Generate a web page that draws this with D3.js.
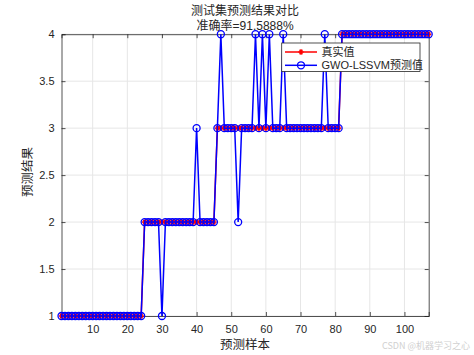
<!DOCTYPE html>
<html><head><meta charset="utf-8">
<script src="https://cdn.jsdelivr.net/npm/d3@7"></script>
<style>body{margin:0;background:#fff}svg{display:block}</style>
</head><body>
<script>
// Data (sample index 1..107)
const trueLevels = [ // [startSample, endSample, value]
  [1, 24, 1], [25, 45, 2], [46, 81, 3], [82, 107, 4]
];
const trueValues = [];
trueLevels.forEach(([a,b,v]) => { for (let i=a;i<=b;i++) trueValues.push(v); });
const predOverrides = [[30,1],[40,3],[47,4],[52,2],[57,4],[59,4],[61,4],[65,4],[77,4]];
const predValues = trueValues.slice();
predOverrides.forEach(([i,v]) => { predValues[i-1] = v; });
const xTicks = [10,20,30,40,50,60,70,80,90,100];
const yTicks = [1,1.5,2,2.5,3,3.5,4];
const titleLines = ["测试集预测结果对比", "准确率=91.5888%"];
const legendLabels = ["真实值", "GWO-LSSVM预测值"];

const W=474,H=355;
const m={l:61.5,r:428.7,t:34.2,b:316};
const svg=d3.select("body").append("svg").attr("width",W).attr("height",H);
const x=d3.scaleLinear().domain([1,107]).range([m.l,m.r]);
const y=d3.scaleLinear().domain([1,4]).range([m.b,m.t]);
const latin="Arial, 'Liberation Sans', Helvetica, sans-serif";
const cjk="'Noto Sans CJK SC', sans-serif";

// grid
const g=svg.append("g");
g.selectAll(".gx").data(xTicks).join("line").attr("x1",d=>x(d)).attr("x2",d=>x(d))
 .attr("y1",m.t).attr("y2",m.b).attr("stroke","#e6e6e6").attr("stroke-width",1);
g.selectAll(".gy").data(yTicks).join("line").attr("y1",d=>y(d)).attr("y2",d=>y(d))
 .attr("x1",m.l).attr("x2",m.r).attr("stroke","#e6e6e6").attr("stroke-width",1);

// axes
const axCol="#262626";
const xb=svg.append("g").attr("transform",`translate(0,${m.b})`)
 .call(d3.axisBottom(x).tickValues(xTicks).tickSize(-4).tickPadding(9));
const xt=svg.append("g").attr("transform",`translate(0,${m.t})`)
 .call(d3.axisTop(x).tickValues(xTicks).tickSize(-4).tickFormat(""));
const yl=svg.append("g").attr("transform",`translate(${m.l},0)`)
 .call(d3.axisLeft(y).tickValues(yTicks).tickSize(-4).tickPadding(7).tickFormat(d3.format("")));
const yr=svg.append("g").attr("transform",`translate(${m.r},0)`)
 .call(d3.axisRight(y).tickValues(yTicks).tickSize(-4).tickFormat(""));
[xb,xt,yl,yr].forEach(a=>{
  a.selectAll("path,line").attr("stroke",axCol).attr("stroke-width",0.8);
  a.selectAll("text").attr("fill",axCol).style("font-family",latin).style("font-size","11px");
});

// lines
const line=d3.line().x((d,i)=>x(i+1)).y(d=>y(d));
svg.append("path").datum(trueValues).attr("d",line).attr("fill","none").attr("stroke","#ff0000").attr("stroke-width",1.5);
function star(cx,cy,s,col,p){
  const a=[0,60,120].map(t=>t*Math.PI/180);
  a.forEach(t=>{p.append("line").attr("x1",cx-s*Math.cos(t)).attr("y1",cy-s*Math.sin(t))
    .attr("x2",cx+s*Math.cos(t)).attr("y2",cy+s*Math.sin(t)).attr("stroke",col).attr("stroke-width",1.5);});
  p.append("line").attr("x1",cx).attr("x2",cx).attr("y1",cy-s).attr("y2",cy+s).attr("stroke",col).attr("stroke-width",1.5);
}
const rs=svg.append("g");
trueValues.forEach((v,i)=>star(x(i+1),y(v),2.6,"#ff0000",rs));

svg.append("path").datum(predValues).attr("d",line).attr("fill","none").attr("stroke","#0000ff").attr("stroke-width",1.5);
svg.append("g").selectAll("circle").data(predValues).join("circle")
 .attr("cx",(d,i)=>x(i+1)).attr("cy",d=>y(d)).attr("r",3.5)
 .attr("fill","none").attr("stroke","#0000ff").attr("stroke-width",1.3);

// title
svg.append("text").attr("x",(m.l+m.r)/2).attr("y",15).attr("text-anchor","middle")
 .style("font-family",cjk).style("font-size","12px").attr("fill","#262626").text(titleLines[0]);
svg.append("text").attr("x",(m.l+m.r)/2).attr("y",30).attr("text-anchor","middle")
 .style("font-family",latin+","+cjk).style("font-size","12px").attr("fill","#262626").text(titleLines[1]);

// axis labels
svg.append("text").attr("x",(m.l+m.r)/2).attr("y",349).attr("text-anchor","middle")
 .style("font-family",cjk).style("font-size","12.5px").attr("fill","#262626").text("预测样本");
svg.append("text").attr("transform",`translate(32,172) rotate(-90)`).attr("text-anchor","middle")
 .style("font-family",cjk).style("font-size","12.5px").attr("fill","#262626").text("预测结果");

// legend
const lg=svg.append("g");
lg.append("rect").attr("x",281.7).attr("y",43).attr("width",138.3).attr("height",28.5)
 .attr("fill","#fff").attr("stroke","#262626").attr("stroke-width",0.8);
const ly=[52,65.3];
lg.append("line").attr("x1",285).attr("x2",317).attr("y1",ly[0]).attr("y2",ly[0]).attr("stroke","#ff0000").attr("stroke-width",1.5);
star(301,ly[0],2.6,"#ff0000",lg);
lg.append("line").attr("x1",285).attr("x2",317).attr("y1",ly[1]).attr("y2",ly[1]).attr("stroke","#0000ff").attr("stroke-width",1.5);
lg.append("circle").attr("cx",301).attr("cy",ly[1]).attr("r",3.5).attr("fill","none").attr("stroke","#0000ff").attr("stroke-width",1.3);
legendLabels.forEach((t,i)=>{
  lg.append("text").attr("x",321.5).attr("y",ly[i]+4).style("font-family",latin+","+cjk)
   .style("font-size","11px").attr("fill","#262626").text(t);
});

// watermark
svg.append("text").attr("x",470).attr("y",349).attr("text-anchor","end")
 .style("font-family",cjk).style("font-size","9px").attr("fill","#d0d0d0").text("CSDN @机器学习之心");
</script>
</body></html>
